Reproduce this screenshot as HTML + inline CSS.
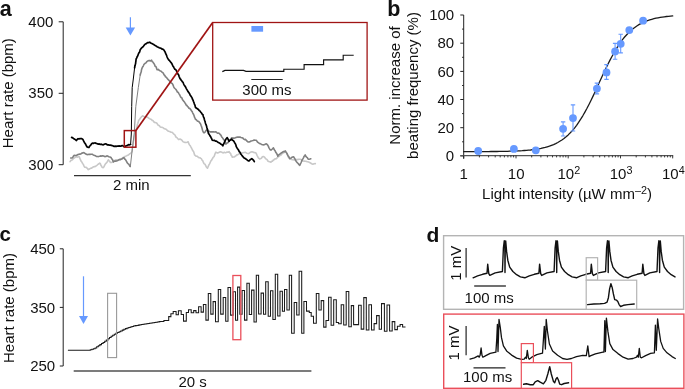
<!DOCTYPE html>
<html lang="en">
<head>
<meta charset="utf-8">
<title>Figure: heart rate response to light</title>
<style>
html,body{margin:0;padding:0;background:#fff;}
body{width:685px;height:389px;overflow:hidden;font-family:"Liberation Sans",sans-serif;}
svg{display:block;}
</style>
</head>
<body>
<svg width="685" height="389" viewBox="0 0 685 389" font-family="'Liberation Sans', sans-serif" fill="#111">
<g id="panel-a">
<text x="-0.3" y="16.1" font-size="21.5" font-weight="bold">a</text>
<path d="M58.7,21.8H63.2V164.7H58.7M58.7,93.3H63.2" fill="none" stroke="#222" stroke-width="1"/>
<text x="53.4" y="26.8" font-size="15" font-weight="normal" text-anchor="end" >400</text>
<text x="53.4" y="98.4" font-size="15" font-weight="normal" text-anchor="end" >350</text>
<text x="53.4" y="169.8" font-size="15" font-weight="normal" text-anchor="end" >300</text>
<text transform="translate(12.8,93.2) rotate(-90)" font-size="15" text-anchor="middle">Heart rate (bpm)</text>
<line x1="130.4" y1="17.2" x2="130.4" y2="29.0" stroke="#6699ff" stroke-width="1.2"/>
<polygon points="125.7,27.6 135.1,27.6 130.4,35.5" fill="#6699ff"/>
<polyline points="70.1,161.7 70.9,160.4 71.8,160.2 72.6,159.6 73.5,158.5 74.5,157.9 75.5,157.2 76.4,156.8 77.7,157.1 78.9,156.4 79.4,157.0 79.9,158.7 80.4,159.6 80.9,161.0 81.4,161.3 82.0,162.3 82.7,163.7 83.3,164.3 83.9,165.9 84.6,167.1 85.2,167.2 86.2,167.4 87.3,168.3 88.3,169.7 89.4,169.0 90.5,168.3 91.6,168.1 92.7,167.3 93.7,166.8 94.6,166.6 95.5,166.4 96.5,165.7 97.3,165.0 98.1,164.2 98.9,163.8 99.7,163.1 100.3,163.6 100.9,165.3 101.6,166.3 102.2,167.3 102.8,167.7 103.4,167.5 104.0,166.8 104.7,165.1 105.3,164.1 105.9,163.4 106.6,162.6 107.2,161.9 107.9,160.5 108.5,159.8 109.1,160.8 109.8,161.4 110.4,162.5 111.4,162.5 112.3,162.2 113.2,161.4 114.2,160.8 115.2,160.0 116.2,159.7 117.2,160.2 118.2,160.0 119.2,159.5 120.1,159.2 121.0,159.0 121.9,158.6 122.8,157.7 123.7,157.1 124.6,156.6 125.5,156.4 126.5,155.9 127.5,155.3 128.5,154.9 129.5,154.0 130.5,153.3 131.0,152.9 131.5,152.5 132.0,151.4 132.2,149.9 132.2,148.7 132.4,147.6 132.8,146.7 133.0,145.7 133.1,144.5 133.3,143.5 133.3,142.2 133.4,141.1 133.8,140.2 134.0,139.0 134.1,137.9 134.2,136.7 134.5,135.6 134.9,134.7 134.9,133.4 135.3,132.4 135.6,131.4 135.9,130.4 136.2,129.4 136.5,128.4 136.8,127.3 137.0,126.3 137.3,125.2 137.4,124.1 137.9,123.3 138.2,122.3 138.4,121.1 138.8,120.2 139.6,119.2 140.3,118.2 141.1,117.2 141.8,116.5 142.6,115.8 143.6,116.4 144.5,116.7 145.4,116.6 146.4,117.0 147.4,117.1 148.4,117.8 149.4,118.6 150.4,119.1 151.4,119.5 152.2,120.4 152.9,120.5 153.7,121.6 154.4,122.4 155.2,122.5 156.0,122.7 156.9,123.2 157.7,124.7 158.5,125.2 159.4,125.7 160.2,126.9 161.2,127.3 162.3,127.4 163.3,127.9 164.4,128.8 165.4,129.1 166.5,129.6 167.6,130.7 168.6,131.2 169.7,131.5 170.7,132.2 171.8,132.2 172.8,132.9 173.5,133.8 174.3,134.4 175.0,135.0 175.7,136.6 176.4,137.4 177.2,137.9 177.9,138.9 178.9,139.6 180.0,139.1 180.9,139.5 181.9,140.2 182.9,141.6 183.8,142.1 184.9,142.4 186.0,142.5 187.1,142.3 188.2,141.8 188.7,143.4 189.2,144.5 189.8,145.2 190.3,145.7 190.8,146.9 191.3,147.6 191.8,148.7 192.2,149.4 192.7,150.6 193.2,151.0 193.7,151.9 194.2,153.6 194.6,154.9 195.1,155.3 196.1,156.2 197.1,156.2 198.2,157.2 199.2,157.8 200.2,157.9 200.8,158.4 201.4,158.7 202.1,160.3 202.7,160.6 203.3,162.1 203.9,163.4 204.5,164.1 205.1,164.3 205.7,165.7 206.3,166.9 206.9,167.6 207.5,168.2 208.0,167.0 208.5,165.8 209.0,164.7 209.4,164.2 209.9,163.2 210.4,162.0 210.9,160.8 211.5,160.3 212.0,159.2 212.6,158.4 213.1,157.3 213.7,156.9 214.2,156.3 214.8,154.4 215.3,153.2 215.9,152.2 217.0,152.9 218.1,152.9 219.2,152.3 220.3,151.8 221.3,152.1 222.3,152.5 223.3,152.9 224.3,152.3 225.3,152.7 226.2,152.5 227.2,152.0 228.2,152.3 229.1,151.5 229.6,152.7 230.2,153.0 230.7,153.7 231.2,155.4 231.8,155.9 232.3,157.3 233.2,157.0 234.2,157.0 235.1,156.3 236.0,155.8 236.8,154.9 237.5,154.9 238.3,154.3 239.0,154.0 239.8,153.5 240.9,152.9 242.0,153.1 243.1,152.7 244.2,152.5 245.5,152.4 246.7,153.2 248.0,153.6 249.0,153.4 250.0,152.5 251.0,152.1 252.0,151.8 252.9,152.0 253.8,152.5 254.8,152.6 255.7,152.7 256.3,153.6 257.0,155.3 257.6,156.3 258.2,157.7 258.9,158.3 259.5,158.9 260.4,158.7 261.4,158.3 262.4,156.8 263.3,156.5 264.1,156.8 264.8,157.3 265.6,158.8 266.3,159.0 267.1,159.7 268.1,161.2 269.0,161.6 269.9,161.7 270.9,162.2 271.6,161.4 272.4,161.3 273.1,160.1 273.8,160.1 274.6,159.1 275.3,158.9 276.3,158.7 277.3,157.6 278.3,156.7 279.3,156.3 280.3,155.3 281.1,155.0 282.0,153.8 282.8,152.7 283.6,153.0 284.5,151.9 285.3,151.4 285.9,152.2 286.4,152.9 286.9,153.4 287.5,155.0 288.1,156.4 288.6,157.6 289.1,157.6 289.7,158.1 290.8,158.7 291.9,159.6 293.1,159.7 294.2,160.0 295.2,160.0 296.2,159.5 297.2,159.6 298.2,159.4 299.2,159.2 300.1,159.2 301.1,159.6 302.1,160.8 303.0,161.0 304.3,161.1 305.5,161.2 306.8,161.6 307.7,161.8 308.6,162.1 309.6,162.5 310.5,163.0 311.7,163.7 312.9,164.2 314.1,163.8 315.3,163.6" fill="none" stroke="#c8c8c8" stroke-width="1.6" stroke-linejoin="round" stroke-linecap="round" />
<polyline points="70.7,158.0 71.6,158.0 72.5,157.8 73.3,156.4 74.2,155.4 75.1,155.5 76.0,155.4 77.0,155.2 78.0,154.5 78.9,154.3 79.9,154.1 80.9,153.9 81.9,153.1 82.9,152.9 83.9,152.6 84.9,153.3 85.9,154.1 87.0,154.6 88.0,154.5 89.0,154.4 90.0,154.4 91.1,154.2 92.2,154.2 93.2,154.9 94.2,155.3 95.3,155.7 96.3,156.4 97.4,156.5 98.4,156.6 99.5,156.3 100.5,155.9 101.6,156.1 102.6,155.8 103.7,156.0 104.8,156.6 105.8,156.5 106.9,155.8 107.9,156.2 108.9,156.7 110.0,157.0 111.0,157.5 111.5,158.3 112.0,159.2 112.5,159.6 113.0,160.9 113.5,162.0 114.6,161.0 115.6,161.1 116.7,161.0 117.7,160.4 118.6,160.0 119.5,159.6 120.5,159.7 121.4,159.0 122.3,158.8 123.3,157.9 124.2,157.8 124.8,159.1 125.5,159.7 126.1,160.6 126.8,162.0 127.4,163.0 128.0,163.6 128.6,164.0 129.1,164.7 129.7,166.0 130.3,166.4" fill="none" stroke="#808080" stroke-width="1.6" stroke-linejoin="round" stroke-linecap="round" />
<polyline points="130.3,166.8 131.5,156.0 132.4,148.5 134.3,132.6 135.8,106.5 138.3,87.6 140.2,75.0" fill="none" stroke="#808080" stroke-width="1.0" stroke-linejoin="round" stroke-linecap="round" />
<polyline points="140.2,75.0 140.5,73.8 140.9,72.7 141.3,71.6 141.4,70.2 141.9,68.5 142.3,67.6 142.8,66.6 143.2,66.2 143.6,65.3 144.0,64.3 144.9,63.5 145.9,62.9 146.9,61.6 147.8,60.9 149.1,60.4 150.3,61.0 151.6,60.2 152.2,61.6 152.8,61.9 153.5,63.1 154.1,63.8 154.6,64.7 155.1,66.2 155.6,66.4 156.2,67.0 156.7,68.8 157.2,69.8 158.3,69.4 159.3,70.4 160.4,71.0 161.2,71.2 161.9,72.1 162.7,72.6 163.5,73.6 164.1,74.8 164.8,75.4 165.4,76.7 166.1,77.1 166.7,77.8 168.0,79.4 168.7,80.1 169.4,80.8 170.1,81.8 170.9,82.6 171.6,83.3 172.3,83.6 173.0,84.9 173.6,86.5 174.2,87.8 174.9,88.5 175.5,89.0 176.1,89.7 176.8,90.9 177.4,92.0 178.0,92.3 178.6,93.1 179.2,94.1 179.9,95.2 180.5,96.7 181.1,97.5 181.8,97.8 182.4,99.4 183.0,100.2 183.6,101.1 184.2,101.7 184.8,102.7 185.5,103.6 186.1,105.0 186.7,105.3 187.4,106.3 188.1,106.8 188.8,108.1 189.6,108.3 190.3,109.1 191.0,110.0 191.7,111.2 192.2,111.6 192.6,112.8 193.1,113.6 193.6,114.5 194.1,115.7 194.6,117.4 195.0,118.1 195.5,119.5 196.3,119.6 197.2,120.9 198.0,121.2 198.8,121.5 199.7,122.7 200.5,123.9 200.7,124.2 201.0,125.2 201.5,126.4 201.8,127.4 202.1,128.4 202.3,129.3 202.5,130.2 203.0,131.4 203.6,132.7 204.4,132.7 205.3,131.7 206.2,130.3 207.1,129.6 208.2,130.6 209.3,131.4 210.4,131.9 211.5,131.8 212.5,131.9 213.5,131.9 214.5,132.0 215.5,131.7 216.5,132.3 217.4,133.2 218.4,133.1 219.4,133.5 220.3,134.7 220.9,135.2 221.6,136.7 222.2,137.4 222.9,138.4 223.5,139.4 224.0,139.8 224.5,140.6 225.0,141.4 225.5,142.9 226.0,144.1 226.8,143.0 227.6,142.9 228.3,142.1 229.1,141.1 229.7,140.2 230.3,139.9 231.0,138.9 231.6,137.9 232.9,138.1 234.1,138.1 235.4,137.8 236.6,137.2 237.7,137.0 238.8,137.1 240.0,137.0 240.9,137.4 241.9,137.7 242.9,138.1 243.8,139.1 244.7,139.6 245.6,139.4 246.4,140.4 247.3,141.4 248.2,142.0 249.1,141.9 250.1,141.7 251.1,141.0 252.0,140.8 253.1,140.5 254.2,140.0 255.3,140.2 256.4,140.3 257.2,141.6 257.9,142.4 258.7,142.9 259.4,143.5 260.2,143.6 261.1,144.1 262.0,144.7 263.0,144.8 263.9,144.9 264.7,144.5 265.6,144.0 266.4,143.9 267.0,144.4 267.7,145.1 268.3,146.1 268.9,147.6 269.6,148.9 270.2,149.9 271.3,149.9 272.3,149.0 273.4,147.9 273.9,149.0 274.5,150.0 275.1,150.7 275.6,152.0 276.1,152.8 276.7,153.6 277.2,154.5 277.8,156.2 278.8,154.8 279.7,154.2 280.7,153.5 281.6,152.7 282.5,152.2 283.5,151.5 284.4,151.6 285.3,150.9 285.9,152.0 286.4,152.5 286.9,153.5 287.5,154.6 288.1,156.0 288.6,156.4 289.1,157.4 289.7,158.8 290.6,158.5 291.6,157.5 292.6,157.0 293.5,156.8 294.1,157.6 294.8,158.7 295.4,159.8 296.1,161.2 296.7,162.0 297.5,162.9 298.2,163.5 299.0,164.7 299.8,165.3 300.3,164.2 300.9,163.0 301.4,161.8 301.9,160.5 302.5,159.4 303.0,158.7 303.6,157.6 304.1,156.3 304.6,156.1 305.2,154.9 305.9,156.4 306.6,157.1 307.3,157.6 308.0,158.9 308.9,159.3 309.9,159.0 310.8,158.7" fill="none" stroke="#808080" stroke-width="1.6" stroke-linejoin="round" stroke-linecap="round" />
<polyline points="71.6,137.4 72.8,137.9 73.9,138.8 74.7,139.2 75.6,139.9 76.4,140.5 77.2,139.5 78.1,138.7 78.9,138.9 80.2,138.6 81.4,138.5 82.7,139.2 83.2,140.0 83.7,141.2 84.1,141.9 84.6,142.9 85.2,143.5 85.8,144.7 86.5,146.1 87.1,146.9 88.0,147.3 89.0,147.5 89.6,146.1 90.2,145.6 90.9,144.9 91.5,143.8 92.5,143.1 93.4,143.4 94.3,143.0 95.3,142.9 96.3,143.4 97.3,143.7 98.3,144.1 99.3,143.9 100.3,144.4 101.3,144.2 102.3,144.6 103.3,144.8 104.3,144.2 105.3,143.9 106.3,144.0 107.3,144.9 108.4,144.9 109.4,145.2 110.4,145.1 111.4,145.4 112.3,145.7 113.2,145.9 114.2,146.4 115.2,146.2 116.2,146.4 117.2,146.1 118.2,146.1 119.2,145.9 120.2,146.2 121.2,146.1 122.2,145.6 123.2,146.1 124.2,146.5 125.3,146.3 126.4,145.7 127.5,145.4 128.6,144.6 129.6,144.8 130.6,144.5" fill="none" stroke="#000" stroke-width="1.7" stroke-linejoin="round" stroke-linecap="round" />
<polyline points="130.6,144.3 131.3,134.0 131.5,120.0 131.7,106.5 132.2,87.6 133.3,79.0 134.6,67.8" fill="none" stroke="#000" stroke-width="1.0" stroke-linejoin="round" stroke-linecap="round" />
<polyline points="134.6,67.8 134.8,66.6 135.1,65.6 135.3,64.6 135.6,63.5 135.7,62.3 135.9,61.1 136.0,59.9 136.2,58.8 136.8,57.9 137.2,56.6 137.7,55.9 138.1,54.7 138.5,53.7 138.9,52.8 139.4,52.3 139.8,51.4 140.2,49.8 140.8,48.9 141.5,47.9 142.1,47.6 142.8,47.0 143.4,46.3 144.0,45.5 144.7,44.6 145.3,44.0 146.4,43.6 147.5,42.7 148.6,42.7 149.7,42.2 150.7,43.0 151.8,43.5 152.8,44.0 153.6,44.4 154.4,45.0 155.2,45.5 156.0,45.9 157.1,46.7 158.2,47.2 159.3,47.8 160.4,48.0 161.3,48.5 162.3,49.2 163.2,49.4 164.2,50.3 164.6,51.2 165.0,51.8 165.4,52.7 165.8,53.9 166.3,54.7 166.7,55.8 167.1,57.0 167.5,57.9 167.9,58.6 168.5,59.6 169.2,60.3 169.8,61.0 170.4,61.8 171.1,62.7 171.7,63.3 172.3,64.7 173.0,66.2 173.6,66.9 174.2,68.1 174.9,69.3 175.5,69.6 176.2,70.2 176.8,71.7 177.3,72.9 177.7,73.8 178.2,74.2 178.7,75.1 179.1,76.5 179.6,77.7 180.0,78.7 180.5,79.0 181.1,80.2 181.8,80.8 182.4,81.9 183.0,82.3 183.6,83.8 184.1,84.8 184.7,85.9 185.2,86.4 185.8,87.5 186.3,88.6 186.9,89.6 187.4,90.4 188.0,91.6 188.6,92.3 189.1,93.1 189.7,93.9 190.2,95.2 190.8,95.9 191.3,96.8 191.9,97.5 192.4,99.0 193.0,100.1 193.4,101.3 193.7,101.9 194.1,103.1 194.4,104.1 194.8,104.9 195.1,105.7 195.5,107.6 196.4,108.0 197.4,108.8 198.4,109.5 199.3,110.6 200.0,111.1 200.8,112.2 201.5,113.0 202.3,114.4 203.0,114.7 203.2,116.0 203.6,117.1 204.1,118.2 204.3,119.2 204.6,120.2 205.0,121.2 205.2,122.1 205.4,123.0 205.8,124.1 206.3,125.3 206.6,126.4 206.8,127.3 207.1,128.4 207.5,129.5 207.6,130.4 208.0,131.5 208.2,132.4 208.4,133.4 209.0,134.1 209.5,134.9 210.0,135.9 210.6,136.6 211.1,137.7 211.6,138.5 212.1,140.0 213.2,140.5 214.3,140.3 215.4,141.1 216.5,141.1 217.4,141.8 218.4,142.6 219.4,143.1 220.3,143.6 221.1,144.3 222.0,144.7 222.8,145.9 223.3,144.4 223.8,143.9 224.3,142.5 224.8,141.4 225.3,140.4 225.9,139.2 226.6,138.3 227.2,137.7 227.8,138.7 228.5,140.1 229.1,141.3 229.9,140.2 230.8,139.9 231.6,139.1 232.5,140.2 233.3,140.6 234.2,141.7 234.6,142.7 235.0,143.2 235.4,143.9 235.9,145.0 236.3,146.7 236.7,147.4 237.3,148.4 238.0,149.3 238.6,150.2 239.2,151.6 239.9,152.2 240.5,153.4 241.2,154.4 242.0,155.6 242.7,156.3 243.5,157.4 244.2,158.0 245.2,158.6 246.2,159.2 247.3,160.1 248.3,160.9 249.3,160.9 250.1,159.7 251.0,159.1 251.8,158.6 252.6,159.5 253.5,160.2 254.3,161.7" fill="none" stroke="#000" stroke-width="1.7" stroke-linejoin="round" stroke-linecap="round" />
<rect x="124.3" y="130.6" width="11.6" height="16.6" fill="none" stroke="#a01414" stroke-width="1.5"/>
<line x1="135.9" y1="130.6" x2="212.7" y2="22.5" stroke="#a01414" stroke-width="1.7"/>
<rect x="212.7" y="22.5" width="154.4" height="77.6" fill="#fff" stroke="#a01414" stroke-width="1.3"/>
<rect x="251.4" y="26" width="11.7" height="5.7" fill="#6699ff"/>
<path d="M222.3,71.6L225,70.4H243.5L246,71.3H283.8V69.2H304.1V64.6H323.6V59.9H343.2V55.2H353.7" fill="none" stroke="#111" stroke-width="1.15"/>
<line x1="251.3" y1="79.5" x2="282.7" y2="79.5" stroke="#222" stroke-width="1"/>
<text x="266.9" y="94.7" font-size="15" font-weight="normal" text-anchor="middle" >300 ms</text>
<line x1="74.0" y1="175.6" x2="190.8" y2="175.6" stroke="#333" stroke-width="1.1"/>
<text x="131.3" y="190.4" font-size="15" font-weight="normal" text-anchor="middle" >2 min</text>
</g>
<g id="panel-b">
<text x="387.2" y="16.1" font-size="21.5" font-weight="bold">b</text>
<path d="M463.7,15.0V158.8M460.3,155.9H463.7M462.1,141.8H463.7M460.3,127.7H463.7M462.1,113.6H463.7M460.3,99.5H463.7M462.1,85.5H463.7M460.3,71.4H463.7M462.1,57.3H463.7M460.3,43.2H463.7M462.1,29.1H463.7M460.3,15.0H463.7" fill="none" stroke="#222" stroke-width="1"/>
<line x1="460.3" y1="155.6" x2="673.2" y2="155.6" stroke="#555" stroke-width="1.2"/>
<path d="M463.7,155.6V158.4M479.4,155.6V157.4M488.6,155.6V157.4M495.2,155.6V157.4M500.2,155.6V157.4M504.4,155.6V157.4M507.9,155.6V157.4M510.9,155.6V157.4M513.6,155.6V157.4M516.0,155.6V158.4M531.7,155.6V157.4M540.9,155.6V157.4M547.4,155.6V157.4M552.5,155.6V157.4M556.6,155.6V157.4M560.1,155.6V157.4M563.1,155.6V157.4M565.8,155.6V157.4M568.2,155.6V158.4M583.9,155.6V157.4M593.1,155.6V157.4M599.7,155.6V157.4M604.7,155.6V157.4M608.9,155.6V157.4M612.4,155.6V157.4M615.4,155.6V157.4M618.1,155.6V157.4M620.5,155.6V158.4M636.2,155.6V157.4M645.4,155.6V157.4M651.9,155.6V157.4M657.0,155.6V157.4M661.1,155.6V157.4M664.6,155.6V157.4M667.6,155.6V157.4M670.3,155.6V157.4M672.7,155.6V158.4" fill="none" stroke="#222" stroke-width="0.9"/>
<text x="454.2" y="161.1" font-size="15" font-weight="normal" text-anchor="end" >0</text>
<text x="454.2" y="132.9" font-size="15" font-weight="normal" text-anchor="end" >20</text>
<text x="454.2" y="104.7" font-size="15" font-weight="normal" text-anchor="end" >40</text>
<text x="454.2" y="76.6" font-size="15" font-weight="normal" text-anchor="end" >60</text>
<text x="454.2" y="48.4" font-size="15" font-weight="normal" text-anchor="end" >80</text>
<text x="454.2" y="20.2" font-size="15" font-weight="normal" text-anchor="end" >100</text>
<text x="463.7" y="178.7" font-size="15" font-weight="normal" text-anchor="middle" >1</text>
<text x="516.2" y="178.7" font-size="15" font-weight="normal" text-anchor="middle" >10</text>
<text x="568.8" y="178.7" font-size="15" text-anchor="middle">10<tspan font-size="10.8" dy="-5">2</tspan></text>
<text x="621.1" y="178.7" font-size="15" text-anchor="middle">10<tspan font-size="10.8" dy="-5">3</tspan></text>
<text x="673.3" y="178.7" font-size="15" text-anchor="middle">10<tspan font-size="10.8" dy="-5">4</tspan></text>
<text transform="translate(400.3,85.5) rotate(-90)" font-size="15" text-anchor="middle">Norm. increase of</text>
<text transform="translate(418.0,85.5) rotate(-90)" font-size="15" text-anchor="middle">beating frequency (%)</text>
<text x="567" y="199.2" font-size="15" text-anchor="middle">Light intensity (µW mm<tspan font-size="10.8" dy="-5">–2</tspan><tspan dy="5">)</tspan></text>
<polyline points="463.7,151.6 465.8,151.6 467.9,151.6 470.0,151.6 472.1,151.6 474.1,151.6 476.2,151.6 478.3,151.6 480.4,151.6 482.5,151.6 484.6,151.6 486.7,151.6 488.8,151.6 490.9,151.5 493.0,151.5 495.1,151.5 497.1,151.5 499.2,151.4 501.3,151.4 503.4,151.4 505.5,151.3 507.6,151.3 509.7,151.2 511.8,151.2 513.9,151.1 516.0,151.0 518.0,150.9 520.1,150.8 522.2,150.7 524.3,150.5 526.4,150.4 528.5,150.2 530.6,150.0 532.7,149.7 534.8,149.5 536.9,149.1 538.9,148.8 541.0,148.4 543.1,147.9 545.2,147.4 547.3,146.8 549.4,146.2 551.5,145.4 553.6,144.6 555.7,143.6 557.8,142.5 559.8,141.3 561.9,140.0 564.0,138.5 566.1,136.8 568.2,134.9 570.3,132.8 572.4,130.6 574.5,128.1 576.6,125.3 578.6,122.4 580.7,119.2 582.8,115.8 584.9,112.1 587.0,108.3 589.1,104.2 591.2,100.0 593.3,95.6 595.4,91.2 597.5,86.6 599.5,82.0 601.6,77.5 603.7,73.0 605.8,68.6 607.9,64.3 610.0,60.1 612.1,56.2 614.2,52.4 616.3,48.9 618.4,45.6 620.5,42.5 622.5,39.6 624.6,37.0 626.7,34.7 628.8,32.5 630.9,30.5 633.0,28.7 635.1,27.2 637.2,25.7 639.3,24.4 641.4,23.3 643.4,22.3 645.5,21.4 647.6,20.6 649.7,19.9 651.8,19.3 653.9,18.7 656.0,18.2 658.1,17.8 660.2,17.4 662.2,17.1 664.3,16.8 666.4,16.5 668.5,16.3 670.6,16.1 672.7,15.9" fill="none" stroke="#1a1a1a" stroke-width="1.3" stroke-linejoin="round" stroke-linecap="round" />
<path d="M563.1,121.9V136.0M560.9,121.9H565.3M560.9,136.0H565.3" fill="none" stroke="#6699ff" stroke-width="1.1"/>
<path d="M573.0,104.9V131.0M570.8,104.9H575.2M570.8,131.0H575.2" fill="none" stroke="#6699ff" stroke-width="1.1"/>
<path d="M596.9,83.1V93.9M594.7,83.1H599.1M594.7,93.9H599.1" fill="none" stroke="#6699ff" stroke-width="1.1"/>
<path d="M606.5,64.6V79.4M604.3,64.6H608.7M604.3,79.4H608.7" fill="none" stroke="#6699ff" stroke-width="1.1"/>
<path d="M615.1,43.4V59.3M612.9,43.4H617.3M612.9,59.3H617.3" fill="none" stroke="#6699ff" stroke-width="1.1"/>
<path d="M620.7,34.3V52.9M618.5,34.3H622.9M618.5,52.9H622.9" fill="none" stroke="#6699ff" stroke-width="1.1"/>
<circle cx="478.2" cy="151.0" r="3.9" fill="#6699ff"/>
<circle cx="513.9" cy="148.9" r="3.9" fill="#6699ff"/>
<circle cx="535.8" cy="150.3" r="3.9" fill="#6699ff"/>
<circle cx="563.1" cy="128.8" r="3.9" fill="#6699ff"/>
<circle cx="573.0" cy="118.1" r="3.9" fill="#6699ff"/>
<circle cx="596.9" cy="88.6" r="3.9" fill="#6699ff"/>
<circle cx="606.5" cy="72.4" r="3.9" fill="#6699ff"/>
<circle cx="615.1" cy="51.4" r="3.9" fill="#6699ff"/>
<circle cx="620.7" cy="43.8" r="3.9" fill="#6699ff"/>
<circle cx="629.3" cy="30.1" r="3.9" fill="#6699ff"/>
<circle cx="643.1" cy="20.7" r="3.9" fill="#6699ff"/>
</g>
<g id="panel-c">
<text x="-0.5" y="241.0" font-size="20.5" font-weight="bold">c</text>
<path d="M59.8,248.8H63.2V366H59.8M59.8,307.4H63.2" fill="none" stroke="#222" stroke-width="1"/>
<text x="55.2" y="253.8" font-size="15" font-weight="normal" text-anchor="end" >450</text>
<text x="55.2" y="312.5" font-size="15" font-weight="normal" text-anchor="end" >350</text>
<text x="55.2" y="371.0" font-size="15" font-weight="normal" text-anchor="end" >250</text>
<text transform="translate(14.2,308.0) rotate(-90)" font-size="15" text-anchor="middle">Heart rate (bpm)</text>
<line x1="83.5" y1="276.3" x2="83.5" y2="317.0" stroke="#6699ff" stroke-width="1.2"/>
<polygon points="79,315.9 88,315.9 83.5,324" fill="#6699ff"/>
<path d="M67.9,350.3H69.5V350.3H71.1V350.3H72.7V350.3H74.3V350.3H75.9V350.3H77.5V350.3H79.1V350.3H80.7V350.3H82.3V350.3H83.9V350.3H85.5V350.3H87.1V350.3H88.7V350.2H90.3V349.7H91.9V349.3H93.5V348.8H95.1V347.9H96.7V346.8H98.3V345.7H99.9V344.6H101.5V343.5H103.1V342.4H104.7V341.3H106.3V340.1H107.9V338.8H109.5V337.5H111.1V336.2H112.7V335.2H114.3V334.3H115.9V333.3H117.5V332.5H119.1V331.7H120.7V330.9H122.3V330.1H123.9V329.3H125.5V328.6H127.1V328.0H128.7V327.5H130.3V327.0H131.9V326.5H133.5V325.9H135.1V325.6H136.7V325.4H138.3V325.1H139.9V324.8H141.5V324.5H143.1V324.2H144.7V323.9H146.3V323.7H147.9V323.4H149.5V323.2H151.1V323.0H152.7V322.7H154.3V322.5H155.9V322.2H157.5V321.9H159.1V321.6H160.0V321.4V321.4H163.9V320.5H168.7V316.6H170.9V313.7H173.2V311.5H176.1V314.7H178.4V310.8H181.2V314.4H183.5V321.1H186.3V312.4H188.5V309.8H191.2V312.8H193.7V310.6H196.0V312.8H198.6V306.7H201.1V312.1H203.4V304.4H205.9V320.1H208.3V293.5H210.8V314.1H213.1V301.6H215.5V321.7H218.3V289.4H220.7V314.1H223.2V297.5H225.7V321.3H228.0V287.5H230.6V315.1H233.1V291.7H235.5V320.3H237.6V287.1H239.8V314.2H242.1V290.5H244.5V320.1H246.9V283.2H249.3V314.4H251.6V290.1H254.0V322.0H256.3V275.3H258.6V314.0H261.1V293.1H263.5V314.3H265.7V281.7H268.2V316.2H270.5V290.7H272.9V319.4H275.3V274.3H277.7V316.0H280.0V291.3H282.4V311.3H284.5V289.4H286.9V309.9H289.3V275.3H291.6V333.3H294.2V302.4H296.7V314.9H299.1V271.2H301.7V333.3H303.9V301.4H306.5V311.1H309.3V312.4H311.2V316.2H313.5V323.3H316.3V293.5H318.9V309.9H321.2V300.6H323.7V327.1H326.0V320.4H328.6V297.2H331.1V325.2H333.7V299.7H336.3V322.4H338.6V323.8H341.2V304.7H343.7V325.0H346.2V291.4H348.8V326.8H351.3V305.6H353.6V324.6H358.6V305.3H361.2V329.1H363.8V297.6H366.3V330.0H368.9V304.7H371.5V330.0H374.1V323.6H376.6V315.6H379.2V329.2H381.5V303.6H384.4V331.3H387.0V304.9H389.6V331.0H392.2V321.6H394.8V329.6H397.4V326.2H400.1V324.4H402.6V327.0H405.5" fill="none" stroke="#1a1a1a" stroke-width="1.05" stroke-linejoin="miter"/>
<rect x="107.6" y="293.3" width="9" height="64.3" fill="none" stroke="#999" stroke-width="1.1"/>
<rect x="232.9" y="275.5" width="7.9" height="64.2" fill="none" stroke="#ea4f5a" stroke-width="1.3"/>
<line x1="73.7" y1="371.0" x2="311.4" y2="371.0" stroke="#505050" stroke-width="1.4"/>
<text x="192.7" y="386.9" font-size="15" font-weight="normal" text-anchor="middle" >20 s</text>
</g>
<g id="panel-d">
<text x="426.4" y="241.9" font-size="21" font-weight="bold">d</text>
<rect x="443.6" y="235.7" width="240" height="73.6" fill="none" stroke="#b4b4b4" stroke-width="1.4"/>
<text transform="translate(461.3,263.2) rotate(-90)" font-size="15" text-anchor="middle">1 mV</text>
<line x1="466.1" y1="248.0" x2="466.1" y2="277.6" stroke="#222" stroke-width="1.2"/>
<line x1="474.2" y1="286.0" x2="505.9" y2="286.0" stroke="#222" stroke-width="1.3"/>
<text x="489.2" y="302.5" font-size="15" font-weight="normal" text-anchor="middle" >100 ms</text>
<polyline points="473.1,277.8 477.6,275.9 482.6,274.3 487.0,273.2 487.7,264.2 488.8,273.6 489.8,275.4 495.2,272.9 502.4,271.5 503.4,248.0 504.3,240.7 504.8,242.0 505.0,272.6 505.3,243.0 505.7,240.9 506.6,251.4 507.8,260.2 509.7,267.1 512.9,271.5 516.6,274.7 520.4,276.9 524.9,277.8 524.8,277.8 529.3,275.9 534.3,274.3 538.9,273.2 539.6,264.2 540.7,273.6 541.7,275.4 546.9,272.9 554.1,271.5 555.1,248.0 556.0,240.7 556.5,242.0 556.7,272.6 557.0,243.0 557.4,240.9 558.3,251.4 559.5,260.2 561.4,267.1 564.6,271.5 568.3,274.7 572.1,276.9 576.6,277.8 576.3,277.8 580.8,275.9 585.8,274.3 590.6,273.2 591.3,264.2 592.4,273.6 593.4,275.4 598.4,272.9 605.6,271.5 606.6,248.0 607.5,240.7 608.0,242.0 608.2,272.6 608.5,243.0 608.9,240.9 609.8,251.4 611.0,260.2 612.9,267.1 616.1,271.5 619.8,274.7 623.6,276.9 628.1,277.8 627.7,277.8 632.2,275.9 637.2,274.3 642.1,273.2 642.8,264.2 643.9,273.6 644.9,275.4 649.8,272.9 657.0,271.5 658.0,248.0 658.9,240.7 659.4,242.0 659.6,272.6 659.9,243.0 660.3,240.9 661.2,251.4 662.4,260.2 664.3,267.1 667.5,271.5 671.2,274.7 675.0,276.9" fill="none" stroke="#111" stroke-width="1.4" stroke-linejoin="round" stroke-linecap="round" stroke-linejoin="miter"/>
<rect x="586.2" y="257.7" width="11.4" height="22.5" fill="none" stroke="#b4b4b4" stroke-width="1.2"/>
<rect x="586.2" y="280.2" width="50.5" height="29.1" fill="#fff" stroke="#b4b4b4" stroke-width="1.2"/>
<polyline points="587.6,304.6 593.9,304.0 600.2,303.8 604.6,303.4 607.1,302.1 608.4,297.7 609.6,288.9 610.9,283.6 612.2,287.6 613.4,293.9 614.7,299.6 616.6,300.2 617.8,301.5 619.1,304.6 620.6,306.5 623.5,305.3 627.9,304.6 634.2,304.0" fill="none" stroke="#111" stroke-width="1.4" stroke-linejoin="round" stroke-linecap="round" />
<rect x="443.7" y="314.1" width="240.2" height="74.2" fill="none" stroke="#ea4f5a" stroke-width="1.4"/>
<text transform="translate(459.2,343.0) rotate(-90)" font-size="15" text-anchor="middle">1 mV</text>
<line x1="466.1" y1="326.0" x2="466.1" y2="355.3" stroke="#222" stroke-width="1.2"/>
<line x1="473.5" y1="367.9" x2="505.5" y2="367.9" stroke="#222" stroke-width="1.3"/>
<text x="487.6" y="382.3" font-size="15" font-weight="normal" text-anchor="middle" >100 ms</text>
<polyline points="470.0,359.1 474.4,357.8 478.2,355.9 479.1,357.2 480.1,355.3 481.1,348.0 482.0,355.3 482.9,357.2 485.8,355.6 490.2,353.4 495.9,352.2 496.8,338.0 497.4,324.4 498.0,351.5 499.0,319.4 500.3,327.6 501.5,337.7 503.4,345.9 506.6,350.9 511.6,355.1 516.6,358.1 521.7,359.3 524.2,359.1 525.5,357.2 526.3,358.5 527.3,350.3 528.4,357.8 529.2,359.3 531.8,357.2 536.8,354.7 542.5,353.2 543.7,335.2 544.3,326.3 545.4,349.0 546.2,319.4 547.5,331.5 549.4,344.0 552.6,350.9 557.6,355.3 562.6,358.5 567.0,359.3 571.4,358.5 576.5,356.6 582.8,355.3 586.3,355.6 587.8,345.9 589.1,356.6 590.3,355.9 595.4,353.8 602.9,352.2 603.9,352.2 604.8,320.7 605.4,351.5 606.4,318.1 607.9,331.4 609.8,343.6 613.0,349.6 618.0,353.6 623.1,357.2 628.1,359.2 633.0,358.5 636.5,357.2 637.4,355.3 638.3,357.2 639.3,348.4 640.3,357.2 641.6,357.8 645.6,355.6 650.6,353.4 654.4,352.8 655.4,325.1 656.3,350.3 657.6,319.0 658.8,328.9 660.7,341.4 663.2,348.4 667.0,352.8 672.0,356.6 675.3,358.5" fill="none" stroke="#111" stroke-width="1.3" stroke-linejoin="round" stroke-linecap="round" stroke-linejoin="miter"/>
<rect x="521.3" y="343.6" width="12.1" height="19.1" fill="none" stroke="#ea4f5a" stroke-width="1.2"/>
<rect x="521.3" y="362.7" width="50.3" height="25.6" fill="#fff" stroke="#ea4f5a" stroke-width="1.2"/>
<polyline points="523.6,384.3 526.4,383.7 530.2,384.7 533.3,384.7 535.2,381.8 537.7,380.6 540.2,382.2 543.4,383.8 545.9,380.3 547.8,374.0 549.7,366.7 551.3,374.0 553.5,381.6 554.7,382.8 556.0,379.0 557.2,377.5 558.5,380.3 559.7,384.1 561.6,384.7 564.2,383.5 568.6,382.8" fill="none" stroke="#111" stroke-width="1.4" stroke-linejoin="round" stroke-linecap="round" />
</g>
</svg>
</body>
</html>
